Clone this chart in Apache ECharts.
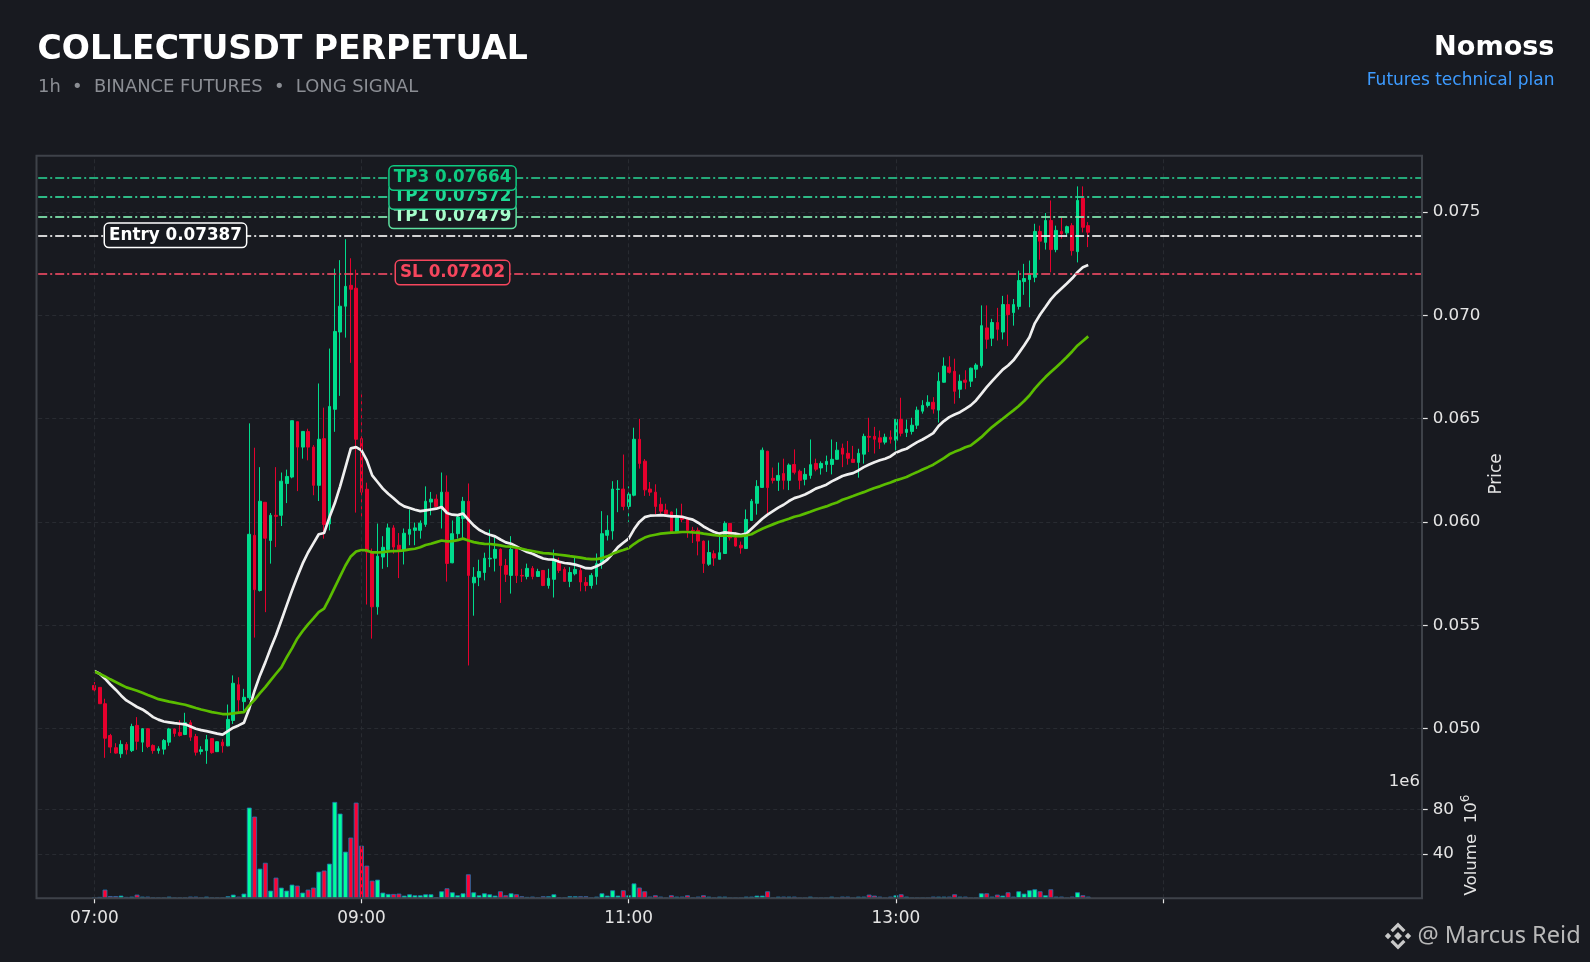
<!DOCTYPE html>
<html><head><meta charset="utf-8">
<script src="https://cdn.jsdelivr.net/npm/echarts@6/dist/echarts.min.js"></script>
<style>html,body{margin:0;padding:0;background:#181a20}#c{width:1590px;height:962px}</style>
</head><body><div id="c"></div>
<script>
const opens=[.05208,.05199,.0512,.04966,.04907,.04878,.04923,.04893,.05015,.04934,
.04999,.04918,.04893,.049,.04934,.04998,.04981,.04971,.05028,.04961,
.04889,.04893,.04951,.04888,.04934,.04916,.05039,.05212,.0513,.05149,
.05935,.05668,.06095,.0591,.06032,.06032,.06186,.06217,.06485,.06362,
.06437,.06362,.06177,.06403,.0599,.06545,.06919,.07044,.07145,.07131,
.06403,.06158,.05854,.05589,.0583,.05866,.05971,.05887,.05862,.0594,
.05959,.05959,.05988,.06096,.0611,.06072,.06144,.05802,.05943,.06016,
.061,.05705,.05732,.05755,.05821,.05824,.05867,.05789,.05741,.05867,
.05741,.05736,.05775,.05736,.05765,.05692,.05722,.05803,.0577,.05712,
.05749,.05765,.05707,.05692,.05736,.05803,.05935,.05956,.06157,.06159,
.06075,.06129,.064,.06294,.06159,.06144,.06085,.06057,.06048,.05951,
.06027,.06012,.05959,.05959,.05907,.05795,.05846,.05819,.05847,.05993,
.05923,.05887,.05871,.06007,.0609,.06167,.06342,.06211,.06201,.06234,
.06201,.06278,.06245,.06206,.06225,.06283,.06261,.06278,.06278,.06303,
.06357,.06332,.06303,.06288,.06328,.06414,.06414,.06407,.06386,.0641,
.06395,.06496,.06433,.06438,.06468,.06536,.06564,.06579,.06541,.06676,
.06749,.06729,.06642,.06686,.06681,.06739,.06757,.06939,.06889,.06965,
.06919,.07052,.07013,.07043,.07163,.07173,.07184,.07406,.07353,.07459,
.07318,.07406,.07399,.07434,.07308,.07566,.07434];
const closes=[.05187,.0512,.04953,.0491,.04881,.04923,.04897,.0501,.04938,.04999,
.04913,.04893,.04902,.04942,.04998,.04976,.04966,.05028,.04958,.04885,
.04897,.04946,.04883,.04936,.04916,.05044,.05219,.05138,.05151,.0594,
.05672,.061,.05921,.06032,.06027,.06197,.0622,.0649,.06362,.06438,
.06362,.06177,.064,.05987,.06559,.06922,.07044,.0714,.07126,.064,
.06144,.05854,.05589,.05834,.05877,.05971,.05878,.05866,.05945,.05964,
.05971,.05994,.061,.0611,.06075,.06144,.05799,.05943,.06024,.061,
.05741,.05732,.0576,.05824,.05824,.05867,.05789,.05746,.05867,.0574,
.05738,.05775,.05736,.0576,.05692,.05727,.05814,.05765,.05712,.05755,
.0577,.05709,.05692,.05741,.05798,.05943,.05959,.06159,.06159,.06075,
.06134,.064,.06283,.06155,.06144,.06075,.06052,.0604,.05951,.06024,
.06012,.05959,.05956,.05907,.05799,.05852,.05825,.05851,.05993,.05923,
.05883,.05874,.06012,.061,.06172,.06347,.06166,.06201,.06225,.06201,
.06275,.0624,.06201,.0623,.06277,.06255,.06283,.06293,.06303,.06347,
.06328,.06308,.06288,.06332,.06414,.0641,.064,.06386,.0641,.064,
.06496,.06429,.06448,.06468,.06541,.06564,.06579,.06546,.06681,.06754,
.06724,.06632,.06681,.06676,.06744,.06759,.0695,.06884,.06965,.06932,
.07052,.07003,.07052,.07168,.07178,.07201,.07406,.07359,.07459,.07318,
.07411,.07394,.07429,.07313,.07556,.07426,.07402];
const highs=[.05225,.05199,.05144,.04974,.04929,.04943,.04934,.05023,.05055,.05002,
.05002,.04923,.04914,.04949,.05003,.05,.0504,.05076,.0504,.04974,
.04914,.04969,.04953,.04938,.04948,.05116,.05257,.05248,.05192,.06477,
.06359,.06265,.06095,.06043,.06265,.06239,.06253,.0649,.06485,.06438,
.06451,.06372,.0667,.06553,.06839,.07226,.07267,.07368,.07276,.07221,
.06618,.0619,.05871,.05992,.05931,.05992,.05984,.05946,.05968,.0606,
.05997,.06007,.06172,.06145,.06133,.06239,.06225,.06007,.06032,.06121,
.06186,.05781,.05817,.05851,.05963,.0593,.05872,.05821,.05931,.05872,
.05773,.05798,.05786,.05773,.05767,.05773,.05866,.05827,.05781,.05781,
.0583,.05781,.05733,.05752,.05847,.06052,.06032,.06197,.06202,.06326,
.06172,.06456,.06499,.06304,.06193,.06182,.06118,.06088,.0605,.06065,
.06088,.06024,.05976,.05973,.0591,.0591,.05862,.05943,.06003,.05993,
.05951,.05905,.0606,.06111,.06202,.0636,.06344,.06263,.06287,.06306,
.06283,.06351,.06253,.06261,.06399,.06306,.06293,.06321,.06399,.06387,
.06379,.06392,.06368,.06354,.06427,.06504,.0646,.06442,.06427,.06443,
.06498,.06601,.06495,.06504,.06558,.06589,.06613,.06604,.06724,.06796,
.06802,.0679,.06713,.06734,.06747,.06768,.07048,.07048,.06983,.07036,
.07094,.071,.07079,.07216,.07249,.07265,.07443,.07434,.07495,.07556,
.07434,.07475,.07434,.07446,.07624,.07624,.07451];
const lows=[.05176,.0512,.04858,.04881,.04878,.04858,.04874,.04886,.04897,.04886,
.04905,.04878,.04878,.04874,.04916,.0496,.04961,.04968,.0494,.04869,
.04874,.04829,.04878,.04886,.04883,.04914,.05022,.05071,.05078,.05139,
.0544,.05663,.05563,.05798,.05878,.0598,.06091,.06211,.06149,.06306,
.06298,.06129,.06101,.05919,.05959,.06436,.0661,.06892,.0677,.06045,
.06023,.056,.05435,.05551,.05773,.05781,.05846,.05728,.05794,.05887,
.05887,.05919,.05976,.06032,.06072,.05968,.05711,.058,.05919,.05919,
.05305,.05546,.05689,.05717,.05781,.0576,.05608,.05709,.05653,.05704,
.05709,.05722,.05722,.05733,.05689,.05677,.05634,.05753,.05709,.05684,
.05741,.05664,.05664,.05677,.05696,.05773,.0591,.05914,.06047,.06056,
.06,.06124,.06258,.06126,.06126,.06037,.0604,.06032,.05948,.05948,
.05998,.05923,.05898,.05838,.05753,.05787,.05787,.05817,.05845,.0591,
.05881,.05846,.05869,.06005,.06035,.06165,.06037,.06186,.0615,.06157,
.06154,.0623,.06157,.06177,.06209,.06245,.06229,.06242,.0623,.06301,
.06265,.06277,.06286,.06214,.06282,.06338,.06331,.06353,.06375,.06379,
.06346,.06414,.06411,.06423,.0645,.06524,.06554,.06524,.06481,.06674,
.06718,.06572,.06599,.06642,.06653,.06696,.06747,.06838,.06851,.06878,
.06883,.06851,.0695,.07028,.07099,.07039,.0716,.07269,.07318,.07208,
.07305,.07371,.07379,.07289,.07256,.07401,.0733];
const emaFast=[.05278,.05265,.05241,.05213,.05188,.0516,.05136,.0512,.05104,.05092,
.05075,.05055,.05043,.05034,.0503,.05026,.05023,.0502,.0501,.04999,
.04992,.04987,.04981,.04975,.0497,.04987,.05004,.05015,.05028,.05097,
.05184,.05257,.0532,.05388,.05451,.05523,.05596,.05668,.05736,.05799,
.05852,.05896,.0594,.05946,.06022,.0609,.06172,.06264,.06356,.06362,
.06346,.06298,.06225,.06193,.06161,.06136,.06114,.06091,.06075,.06067,
.06059,.06052,.06056,.0606,.06064,.06072,.06043,.06035,.06033,.0604,
.06011,.05983,.05962,.05948,.05938,.0593,.05915,.05901,.05894,.05881,
.05867,.05854,.05846,.05834,.05823,.05818,.05817,.05807,.05801,.05798,
.05793,.05785,.05776,.05775,.05785,.05798,.05817,.05846,.05878,.05899,
.05919,.05964,.06,.06023,.0603,.06031,.06033,.0603,.06027,.06027,
.06025,.06018,.06011,.05996,.05978,.05964,.05951,.05943,.05949,.05946,
.05943,.05938,.05943,.05967,.05991,.06015,.06035,.06052,.06069,.06083,
.06101,.06115,.06123,.06133,.06146,.06161,.0617,.0618,.06196,.06209,
.06222,.0623,.06236,.06249,.06265,.06278,.06289,.06298,.06306,.06317,
.06335,.06346,.06354,.0637,.06386,.06399,.06414,.0643,.06464,.06488,
.06507,.0652,.06531,.06547,.06564,.06588,.0662,.06652,.06681,.06709,
.06737,.06757,.06782,.06817,.06854,.06894,.06961,.07004,.0704,.07077,
.07106,.0713,.07154,.07179,.07209,.07233,.07243];
const emaSlow=[.05276,.05265,.05252,.05238,.05225,.05212,.05199,.05191,.05183,.05173,
.05162,.05152,.05142,.05136,.0513,.05125,.0512,.05115,.05107,.05099,
.05092,.05086,.05079,.05075,.0507,.0507,.05073,.05077,.05079,.05112,
.05139,.05171,.052,.05233,.05265,.05296,.05344,.05388,.05436,.05472,
.05504,.05533,.05563,.0558,.0563,.05683,.05736,.05789,.05833,.05857,
.05864,.05862,.05852,.05852,.05854,.05857,.05859,.0586,.05862,.05867,
.0587,.05877,.05888,.05894,.05902,.0591,.05906,.05907,.05912,.05919,
.0591,.05902,.05897,.05894,.05893,.0589,.05886,.05881,.0588,.05875,
.0587,.05864,.05859,.05854,.05849,.05848,.05844,.05841,.05838,.05834,
.05831,.05827,.05822,.0582,.0582,.05825,.05833,.05846,.05856,.05864,
.05873,.05893,.0591,.05924,.05933,.05938,.05943,.05946,.05948,.05949,
.05951,.05951,.05949,.05948,.05943,.0594,.05936,.05933,.05933,.05933,
.05931,.05931,.05935,.0594,.05954,.05967,.05978,.05988,.05998,.06007,
.06015,.06025,.06031,.0604,.06049,.06059,.06067,.06075,.06085,.06094,
.06107,.06116,.06125,.06135,.06144,.06154,.06164,.06172,.06182,.06191,
.06201,.06209,.06217,.0623,.06241,.06254,.06265,.06277,.06293,.06309,
.06327,.06339,.06349,.06361,.0637,.0639,.0641,.06435,.06459,.06479,
.06499,.0652,.0654,.06561,.06585,.06612,.06645,.06674,.06701,.06725,
.06749,.06773,.06798,.06825,.06854,.06876,.06898];
const volumes=[.6,1.2,7.8,2,2,2.4,1.2,1.5,3.3,1.5,
1.5,.6,.5,.5,1.5,.5,.5,.5,1.5,1.5,
.5,1.5,.5,.5,.5,1.8,3.3,1.5,4.2,81.7,
73.6,26.7,32,6.9,18.6,9.6,6.9,12.3,11.4,5.1,
7.8,9.6,24,25,31.2,86.8,76.3,42,54.7,86.2,
47.4,29.4,15.9,16.8,5.1,3.9,3.9,4.2,2.4,3.6,
2.7,2.7,3.6,3.6,.9,6.3,9,5.4,2.7,4.5,
21.6,5.4,2.7,4.5,3.6,2.4,6.3,2.7,4.5,3.6,
1.8,1.2,1.5,.6,1.8,1.8,3.6,.6,.6,1.8,
1.8,1.8,1.8,.6,1.5,4.5,2.4,7.2,2.4,7.2,
2.7,13.4,9.7,6.3,1.5,2.7,1.5,.3,2.7,1.5,
1.5,2.7,.6,1.5,2.7,1.5,.6,1.5,1.5,.3,
.3,.3,1.5,1.5,2.4,2.4,6.3,.3,1.5,1.5,
1.5,1.5,.3,.3,1.5,.3,.3,.3,1.5,.3,
1.5,1.5,.3,1.5,1.5,3.3,2.4,1.5,.3,1.5,
2.7,3.6,1.5,.3,.3,.3,.3,1.5,1.5,1.5,
1.5,3.6,1.5,1.5,.3,.3,4.5,4.5,1.5,3.3,
2.4,5.4,1.5,6.3,4.2,7.2,8.1,6.3,2.7,8.1,
1.5,1.5,.3,1.5,5.4,2.7,1.5];
const priceTicks=[.05,.055,.06,.065,.07,.075];
const volumeTicks=[40,80];
const levels=[
 {name:'TP3',value:.07664,line:'#25bd85',text:'#0ecb81',box:'#0ecb81'},
 {name:'TP2',value:.07572,line:'#2fd094',text:'#1fdc96',box:'#1ecf8c'},
 {name:'TP1',value:.07479,line:'#7fe6ae',text:'#a6ffcb',box:'#5fe0a0'},
 {name:'Entry',value:.07387,line:'#ececec',text:'#ffffff',box:'#ffffff'},
 {name:'SL',value:.07202,line:'#e0475e',text:'#f6465d',box:'#f6465d'}
];
const labelOrder=['SL','Entry','TP1','TP2','TP3'];
const leadBlank=10, bandCount=259, ticksEvery=50;
const tickIdx=[0,1,2,3,4].map(n=>leadBlank+n*ticksEvery);
const labelIdx=tickIdx.slice(0,4);
const categories=[];
for(let k=0;k<bandCount;k++){
  const m=420+(k-leadBlank)*2.4;
  categories.push(String(Math.floor(m/60)).padStart(2,'0')+':'+String(Math.floor(m%60)).padStart(2,'0'));
}
const UP='#00dc8c',DOWN='#e6002d',VUP='#00ff9c',VDOWN='#ff0033',EDGE='#1f77b4';
const BG='#181a20',GRID='#282b31',TXT='#e4e4e4';
const blanks=Array(leadBlank).fill('-');
const candles=blanks.concat(opens.map((o,i)=>[o,closes[i],lows[i],highs[i]]));
const volData=volumes.map((v,i)=>({value:[i+leadBlank,v],itemStyle:{color:closes[i]>=opens[i]?VUP:VDOWN}}));
const dash=[9,3,2,3];
const markData=labelOrder.map(n=>{
  const l=levels.find(x=>x.name===n);
  return {name:n,coord:[n==='Entry'?25:77,l.value],symbol:'circle',symbolSize:0,
   label:{show:true,position:'inside',offset:[n==='Entry'?1:0.2,n==='SL'?-1:0],
    formatter:n+' '+l.value.toFixed(5),color:l.text,fontFamily:'DejaVu Sans',fontWeight:'bold',fontSize:16.8,
    backgroundColor:BG,borderColor:l.box,borderWidth:1.5,borderRadius:4,padding:[3,4,2,4],lineHeight:18}};
});
const chart=echarts.init(document.getElementById('c'),null,{renderer:'canvas'});
const F='DejaVu Sans';
const logoChildren=[
 [[0,-4],[4,0],[0,4],[-4,0]],
 [[-10,-3.2],[-6.8,0],[-10,3.2],[-13.2,0]],
 [[10,-3.2],[13.2,0],[10,3.2],[6.8,0]],
 [[0,-13.5],[7.5,-6],[5.2,-3.8],[0,-9],[-5.2,-3.8],[-7.5,-6]],
 [[0,13.5],[7.5,6],[5.2,3.8],[0,9],[-5.2,3.8],[-7.5,6]]
].map(p=>({type:'polygon',shape:{points:p},style:{fill:'#c9c9c9'}}));
chart.setOption({
 animation:false,backgroundColor:BG,
 grid:{left:38.2,width:1384,top:155.7,height:742.6,containLabel:false},
 xAxis:{type:'category',data:categories,boundaryGap:true,
  axisLine:{show:false},
  axisTick:{show:true,alignWithLabel:true,length:5,interval:(i)=>tickIdx.includes(i),lineStyle:{color:TXT,width:1.2}},
  axisLabel:{show:true,interval:(i)=>labelIdx.includes(i),color:TXT,fontFamily:F,fontSize:16.9,margin:12},
  splitLine:{show:false}},
 yAxis:[
  {type:'value',position:'right',offset:0.5,min:.041781,max:.077725,scale:true,
   axisLine:{show:false},
   axisTick:{show:true,length:5,customValues:priceTicks,lineStyle:{color:TXT,width:1.2}},
   axisLabel:{show:true,customValues:priceTicks,color:TXT,fontFamily:F,fontSize:16.7,margin:10,padding:[2,0,0,0],formatter:v=>(+v).toFixed(3)},
   splitLine:{show:true,lineStyle:{color:GRID,type:[4,3],width:1}}},
  {type:'value',position:'right',offset:0.5,min:0,max:669,
   axisLine:{show:false},
   axisTick:{show:true,length:5,customValues:volumeTicks,lineStyle:{color:TXT,width:1.2}},
   axisLabel:{show:true,customValues:volumeTicks,color:TXT,fontFamily:F,fontSize:16.7,margin:10,padding:[2,0,0,0]},
   splitLine:{show:true,lineStyle:{color:GRID,type:[4,3],width:1}}}
 ],
 series:[
  {type:'line',name:'Time grid',data:[],z:1,symbol:'none',
   markLine:{silent:true,symbol:'none',label:{show:false},
    lineStyle:{color:GRID,type:[4,3],width:1},
    data:tickIdx.map(k=>({xAxis:k}))}},
  {type:'candlestick',name:'Price',data:candles,barWidth:3.2,z:2,clip:true,
   itemStyle:{color:UP,color0:DOWN,borderColor:UP,borderColor0:DOWN,borderWidth:1}},
  {type:'bar',name:'Volume',yAxisIndex:1,data:volData,barWidth:4.8,z:2,
   itemStyle:{borderColor:EDGE,borderWidth:.8}},
  {type:'line',name:'EMA fast',data:emaFast.map((v,i)=>[i+leadBlank,v]),showSymbol:false,symbol:'none',z:3,
   lineStyle:{color:'#efefef',width:2.7}},
  {type:'line',name:'EMA slow',data:emaSlow.map((v,i)=>[i+leadBlank,v]),showSymbol:false,symbol:'none',z:3,
   lineStyle:{color:'#5bbd00',width:2.7}},
  {type:'line',name:'Levels',data:[],z:5,symbol:'none',
   markLine:{silent:true,symbol:'none',precision:5,label:{show:false},
    data:levels.map(l=>({yAxis:l.value,lineStyle:{color:l.line,type:dash,width:1.9,opacity:.88}}))},
   markPoint:{silent:true,z:6,data:markData}}
 ],
 graphic:[
  {type:'rect',z:20,silent:true,shape:{x:36.5,y:155.7,width:1385.5,height:742.6},style:{fill:'none',stroke:'#3e4249',lineWidth:2}},
  {type:'text',x:37.5,y:50.5,style:{text:'COLLECTUSDT PERPETUAL',fill:'#ffffff',font:'bold 33.1px "DejaVu Sans"',textVerticalAlign:'middle'}},
  {type:'text',x:38,y:87,style:{text:'1h  •  BINANCE FUTURES  •  LONG SIGNAL',fill:'#8b8e94',font:'17.9px "DejaVu Sans"',textVerticalAlign:'middle'}},
  {type:'text',x:1554.5,y:47.5,style:{text:'Nomoss',fill:'#ffffff',font:'bold 27.1px "DejaVu Sans"',textAlign:'right',textVerticalAlign:'middle'}},
  {type:'text',x:1554.5,y:81,style:{text:'Futures technical plan',fill:'#3d9bff',font:'17px "DejaVu Sans"',textAlign:'right',textVerticalAlign:'middle'}},
  {type:'text',x:1420,y:782,style:{text:'1e6',fill:TXT,font:'16.5px "DejaVu Sans"',textAlign:'right',textVerticalAlign:'middle'}},
  {type:'text',x:1497,y:474,rotation:Math.PI/2,style:{text:'Price',fill:TXT,font:'16.8px "DejaVu Sans"',textAlign:'center',textVerticalAlign:'middle'}},
  {type:'text',x:1472,y:845,rotation:Math.PI/2,style:{text:'Volume  10{s|6}',fill:TXT,font:'16.6px "DejaVu Sans"',textAlign:'center',textVerticalAlign:'middle',
    rich:{s:{font:'12px "DejaVu Sans"',fill:TXT,verticalAlign:'top',lineHeight:24}}}},
  {type:'group',x:1398,y:936,children:logoChildren},
  {type:'text',x:1417.5,y:936,style:{text:'@ Marcus Reid',fill:'#b9b9b9',font:'23.6px "Noto Sans"',textVerticalAlign:'middle'}}
 ]
});
</script></body></html>
